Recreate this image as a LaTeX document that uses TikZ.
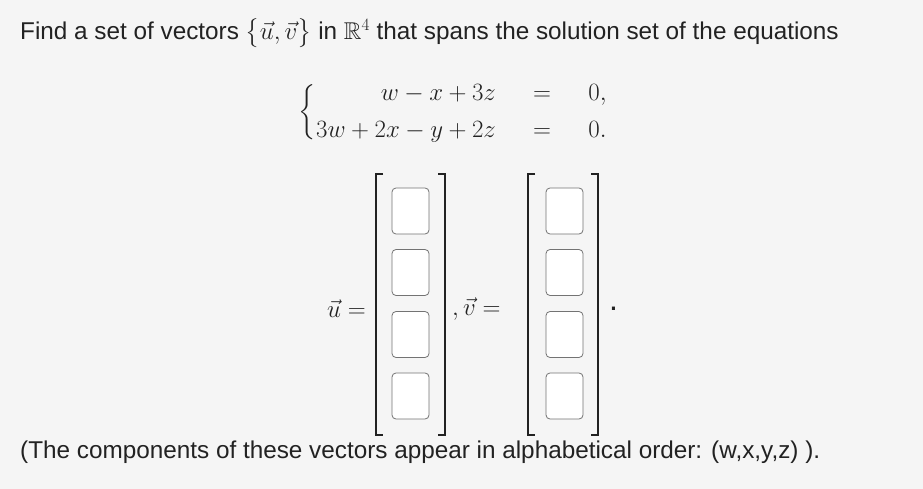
\documentclass[tikz,border=0pt]{standalone}
\usepackage{amsmath,amssymb}
\usepackage{fontspec}
\setmainfont{Liberation Sans}
\definecolor{bg}{HTML}{F5F5F5}
\definecolor{ink}{HTML}{222222}
\begin{document}
\begin{tikzpicture}[x=1pt,y=-1pt,
  ansbox/.style={draw=black!55,fill=white,rounded corners=4pt,line width=0.8pt,minimum width=37pt,minimum height=46pt,inner sep=0},
  brk/.style={line width=1.8pt,draw=ink},
  txt/.style={inner sep=0,anchor=west,text=ink,font=\fontsize{24.3}{29}\selectfont},
  mth/.style={inner sep=0,anchor=west,text=ink,font=\fontsize{32}{38}\selectfont}]
\fill[bg] (0,0) rectangle (923,489);
\useasboundingbox (0,0) rectangle (923,489);
\node[txt] (q) at (20,33) {Find a set of vectors $\bigl\{\vec u,\vec v\bigr\}$ in $\mathbb{R}^4$ that spans the solution set of the equations};
\node[inner sep=0,text=ink,font=\fontsize{23}{28}\selectfont] (brace) at (307,112) {$\bigg\{$};
\node[mth] (sys) at (316,111) {$\begin{aligned} w - x + 3z &\hspace{0.95em}=\hspace{0.95em} 0,\\[-4pt] 3w+2x-y+2z &\hspace{0.95em}=\hspace{0.95em} 0.\end{aligned}$};
\node[mth,anchor=east] (ueq) at (366,309) {$\vec u=$};
\node[mth] (veq) at (452,309) {$,\vec v=$};
\node[mth] (dot) at (609,309) {.};
% brackets
\draw[brk] (383,174) -- (376,174) -- (376,435) -- (383,435);
\draw[brk] (438,174) -- (445,174) -- (445,435) -- (438,435);
\draw[brk] (535,174) -- (528,174) -- (528,435) -- (535,435);
\draw[brk] (591,174) -- (598,174) -- (598,435) -- (591,435);
\foreach \i/\y in {1/211,2/272.5,3/334.5,4/396}{
  \node[ansbox] (u\i) at (410.5,\y) {};
  \node[ansbox] (v\i) at (564.5,\y) {};
}
\node[txt] (foot) at (20,452) {(The components of these vectors appear in alphabetical order: (w,x,y,z) ).};
\end{tikzpicture}
\end{document}
